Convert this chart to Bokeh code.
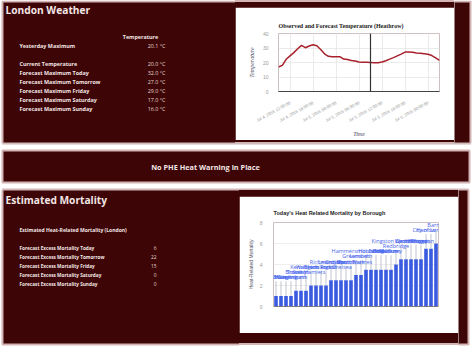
import pandas as pd
from bokeh.plotting import figure
from bokeh.layouts import column, row
from bokeh.models import Range1d, FixedTicker, Span, FactorRange, ColumnDataSource, LabelSet
from bokeh.core.properties import value
from bokeh.embed import file_html
from bokeh.resources import INLINE

# ---------------- data ----------------
weather_labels = ["Yesterday Maximum", "Current Temperature", "Forecast Maximum Today",
                  "Forecast Maximum Tomorrow", "Forecast Maximum Friday",
                  "Forecast Maximum Saturday", "Forecast Maximum Sunday"]
weather_values = [20.1, 20.0, 32.0, 27.0, 29.0, 17.0, 16.0]
weather_rows = [0, 2, 3, 4, 5, 6, 7]

mortality_labels = ["Forecast Excess Mortality Today", "Forecast Excess Mortality Tomorrow",
                    "Forecast Excess Mortality Friday", "Forecast Excess Mortality Saturday",
                    "Forecast Excess Mortality Sunday"]
mortality_values = [6, 22, 15, 0, 0]

temp_start = "2016-07-04 09:00"
temps = [16.9, 18.0, 22.2, 24.6, 26.8, 29.5, 31.8, 30.2, 31.4, 32.2, 31.5, 29.0, 26.0,
         24.3, 23.9, 23.9, 24.0, 22.4, 22.1, 21.4, 21.0, 20.3, 20.1, 20.1, 20.0, 19.8,
         19.8, 20.3, 21.2, 22.3, 23.4, 24.6, 25.8, 27.2, 27.3, 27.0, 26.6, 26.3, 26.0,
         25.7, 24.8, 23.2, 21.4]
now_time = "2016-07-05 09:00"
tick_times = ["2016-07-04 12:00", "2016-07-04 18:00", "2016-07-05 00:00", "2016-07-05 06:00",
              "2016-07-05 12:00", "2016-07-05 18:00", "2016-07-06 00:00"]
tick_labels = ["Jul 4, 2016 12:00:00", "Jul 4, 2016 18:00:00", "Jul 5, 2016 00:00:00",
               "Jul 5, 2016 06:00:00", "Jul 5, 2016 12:00:00", "Jul 5, 2016 18:00:00",
               "Jul 6, 2016 00:00:00"]
temp_ticks = [0, 10, 20, 30, 40]

boroughs = ["Barking and Dagenham", "Bexley", "Havering", "Wandsworth",
            "Bromley", "Sutton", "Tower Hamlets",
            "Brent", "Waltham Forest", "Kensington and Chelsea", "Islington",
            "Lewisham", "Croydon", "Richmond upon Thames", "Merton", "Southwark",
            "Greenwich", "Lambeth",
            "Hammersmith and Fulham", "Hounslow", "Ealing", "Enfield", "Newham", "Hackney",
            "Redbridge",
            "Kingston upon Thames", "Camden", "Westminster", "Haringey", "Hillingdon",
            "Harrow", "City of London", "Barnet"]
borough_mortality = [1, 1, 1, 1, 1.5, 1.5, 1.5, 2, 2, 2, 2, 2.5, 2.5, 2.5, 2.5, 2.5,
                     3, 3, 3.5, 3.5, 3.5, 3.5, 3.5, 3.5, 4, 4.5, 4.5, 4.5, 4.5, 4.5,
                     5.5, 5.5, 6]
mort_ticks = [0, 2, 4, 6, 8]

# ---------------- styles ----------------
MAROON = "#3d0505"
EDGE = "#d3b3b3"
TXT = "#f2e6e6"
VAL = "#e6d6d6"
FONT = value("Open Sans")

panels_l = [2, 2, 2]
panels_r = [470, 469, 468]
panels_t = [1, 150, 189]
panels_b = [143, 182, 344]


def canvas(x0, y0, w, h):
    p = figure(width=w, height=h, x_range=Range1d(x0, x0 + w), y_range=Range1d(y0 + h, y0),
               toolbar_location=None, output_backend="svg", min_border=0, title=None,
               x_axis_location=None, y_axis_location=None,
               outline_line_color=None, background_fill_color="white",
               border_fill_color="white")
    p.grid.visible = False
    p.quad(left=panels_l, right=panels_r, top=panels_t, bottom=panels_b,
           fill_color=MAROON, line_color=EDGE, line_width=2)
    return p


# ---------- top-left panel ----------
L1 = canvas(0, 0, 235, 143)
L1.text(x=[5], y=[9.5], text=["London Weather"], text_font=FONT, text_font_style="bold",
        text_font_size="10.2px", text_color=TXT, text_baseline="middle")
L1.text(x=[140], y=[36], text=["Temperature"], text_font=FONT, text_font_style="bold",
        text_font_size="5.4px", text_color=TXT, text_baseline="middle", text_align="center")
wy = [45 + 9 * r for r in weather_rows]
L1.text(x=[19] * len(weather_labels), y=wy, text=weather_labels, text_font=FONT,
        text_font_style="bold", text_font_size="5.4px", text_color=TXT, text_baseline="middle")
L1.text(x=[165] * len(weather_values), y=wy, text=[f"{v:.1f} °C" for v in weather_values],
        text_font=FONT, text_font_size="5.4px", text_color=VAL, text_baseline="middle",
        text_align="right")

R1 = canvas(454, 0, 20, 143)

# ---------- temperature chart ----------
t = pd.date_range(pd.Timestamp(temp_start), periods=len(temps), freq="h")
src = ColumnDataSource(dict(t=t, temp=temps))
tp = figure(width=219, height=133, x_axis_type="datetime",
            x_range=Range1d(t[0].to_pydatetime(), t[-1].to_pydatetime()),
            y_range=Range1d(0, 40), toolbar_location=None, output_backend="svg",
            min_border_left=43, min_border_right=15, min_border_top=26, min_border_bottom=35,
            outline_line_color=None, background_fill_color="white", border_fill_color="white")
tp.margin = (7, 0, 3, 0)
tp.title.text = "Observed and Forecast Temperature (Heathrow)"
tp.title.text_font = "Liberation Serif"
tp.title.text_font_size = "6px"
tp.title.text_font_style = "bold"
tp.title.text_color = "#222222"
tp.title.align = "left"
tp.title.standoff = 9

ms = [pd.Timestamp(s).value // 10**6 for s in tick_times]
tp.xaxis.ticker = FixedTicker(ticks=ms)
tp.xaxis.major_label_overrides = {float(m): lab for m, lab in zip(ms, tick_labels)}
tp.xaxis.major_label_orientation = 0.5
tp.xaxis.major_label_text_font_size = "4.2px"
tp.xaxis.major_label_text_color = "#9a9a9a"
tp.xaxis.major_tick_line_color = None
tp.xaxis.minor_tick_line_color = None
tp.xaxis.axis_line_color = "#444444"
tp.xaxis.axis_label = "Time"
tp.xaxis.axis_label_text_font = "Liberation Serif"
tp.xaxis.axis_label_text_font_style = "italic"
tp.xaxis.axis_label_text_font_size = "6px"
tp.xaxis.axis_label_text_color = "#44445a"
tp.xaxis.axis_label_standoff = 3

tp.yaxis.ticker = FixedTicker(ticks=temp_ticks)
tp.yaxis.major_label_text_font_size = "5px"
tp.yaxis.major_label_text_color = "#9a9a9a"
tp.yaxis.major_label_standoff = 4
tp.yaxis.major_tick_line_color = None
tp.yaxis.minor_tick_line_color = None
tp.yaxis.axis_line_color = None
tp.yaxis.axis_label = "Temperature"
tp.yaxis.axis_label_text_font = "Liberation Serif"
tp.yaxis.axis_label_text_font_style = "italic"
tp.yaxis.axis_label_text_font_size = "6px"
tp.yaxis.axis_label_text_color = "#44445a"
tp.yaxis.axis_label_standoff = 5
tp.grid.grid_line_color = "#e2e2e2"
tp.grid.grid_line_width = 0.7

tp.line("t", "temp", source=src, line_color="#a8202c", line_width=1.5)
tp.add_layout(Span(location=pd.Timestamp(now_time).value // 10**6, dimension="height",
                   line_color="#333333", line_width=1.2))

top_bg = (f"linear-gradient(to bottom, {EDGE} 0px, {EDGE} 2px, {MAROON} 2px, "
          f"{MAROON} 142px, {EDGE} 142px, {EDGE} 143px)")
tp_box = column(tp, styles={"background": top_bg})

# ---------- banner ----------
B = canvas(0, 143, 474, 46)
B.text(x=[205], y=[166.5], text=["No PHE Heat Warning in Place"], text_font=FONT,
       text_font_style="bold", text_font_size="7.3px", text_color=TXT, text_baseline="middle",
       text_align="center")

# ---------- bottom-left panel ----------
L2 = canvas(0, 189, 239, 157)
L2.text(x=[5], y=[199], text=["Estimated Mortality"], text_font=FONT, text_font_style="bold",
        text_font_size="10.2px", text_color=TXT, text_baseline="middle")
L2.text(x=[19], y=[229], text=["Estimated Heat-Related Mortality (London)"], text_font=FONT,
        text_font_style="bold", text_font_size="5px", text_color=TXT, text_baseline="middle")
my = [247 + 9 * i for i in range(len(mortality_labels))]
L2.text(x=[19] * len(mortality_labels), y=my, text=mortality_labels, text_font=FONT,
        text_font_style="bold", text_font_size="4.7px", text_color=TXT, text_baseline="middle")
L2.text(x=[156] * len(mortality_values), y=my, text=[str(v) for v in mortality_values],
        text_font=FONT, text_font_size="4.9px", text_color=VAL, text_baseline="middle",
        text_align="right")

R2 = canvas(458, 189, 16, 157)

# ---------- bar chart ----------
bsrc = ColumnDataSource(dict(b=boroughs, v=borough_mortality,
                             top=[v + 1.4 for v in borough_mortality]))
bp = figure(width=219, height=137, x_range=FactorRange(*boroughs), y_range=Range1d(0, 8),
            toolbar_location=None, output_backend="svg",
            min_border_left=34, min_border_right=20, min_border_top=26, min_border_bottom=27,
            outline_line_color=None, background_fill_color="white", border_fill_color="white")
bp.margin = (7, 0, 13, 0)
bp.title.text = "Today's Heat Related Mortality by Borough"
bp.title.text_font = "Liberation Sans"
bp.title.text_font_size = "5.5px"
bp.title.text_font_style = "bold"
bp.title.text_color = "#222222"
bp.title.align = "left"
bp.title.standoff = 13
bp.vbar(x="b", top="v", width=0.72, source=bsrc, fill_color="#3a5be0", line_color=None)
bp.segment(x0="b", y0="v", x1="b", y1="top", source=bsrc, line_color="#9aa0b0", line_width=0.6)
bp.add_layout(LabelSet(x="b", y="top", text="b", source=bsrc, text_align="center",
                       text_baseline="bottom", text_font_size="5.5px", text_color="#4a68ee",
                       text_font=FONT))
bp.xaxis.visible = False
bp.xgrid.visible = False
bp.add_layout(Span(location=0, dimension="width", line_color="#444444", line_width=1))
bp.yaxis.ticker = FixedTicker(ticks=mort_ticks)
bp.yaxis.major_label_text_font_size = "5px"
bp.yaxis.major_label_text_color = "#9a9a9a"
bp.yaxis.major_tick_line_color = None
bp.yaxis.minor_tick_line_color = None
bp.yaxis.axis_line_color = None
bp.yaxis.axis_label = "Heat-Related Mortality"
bp.yaxis.axis_label_text_font = "Liberation Sans"
bp.yaxis.axis_label_text_font_style = "normal"
bp.yaxis.axis_label_text_font_size = "5px"
bp.yaxis.axis_label_text_color = "#555566"
bp.yaxis.axis_label_standoff = 3
bp.ygrid.grid_line_color = "#e6e6e6"
bp.ygrid.grid_line_width = 0.7

bot_bg = (f"linear-gradient(to bottom, {EDGE} 0px, {EDGE} 1px, {MAROON} 1px, "
          f"{MAROON} 154px, {EDGE} 154px, {EDGE} 156px, white 156px)")
bp_box = column(bp, styles={"background": bot_bg})

layout = column(
    row(L1, tp_box, R1),
    B,
    row(L2, bp_box, R2),
)

open("out.html", "w").write(file_html(layout, INLINE))
